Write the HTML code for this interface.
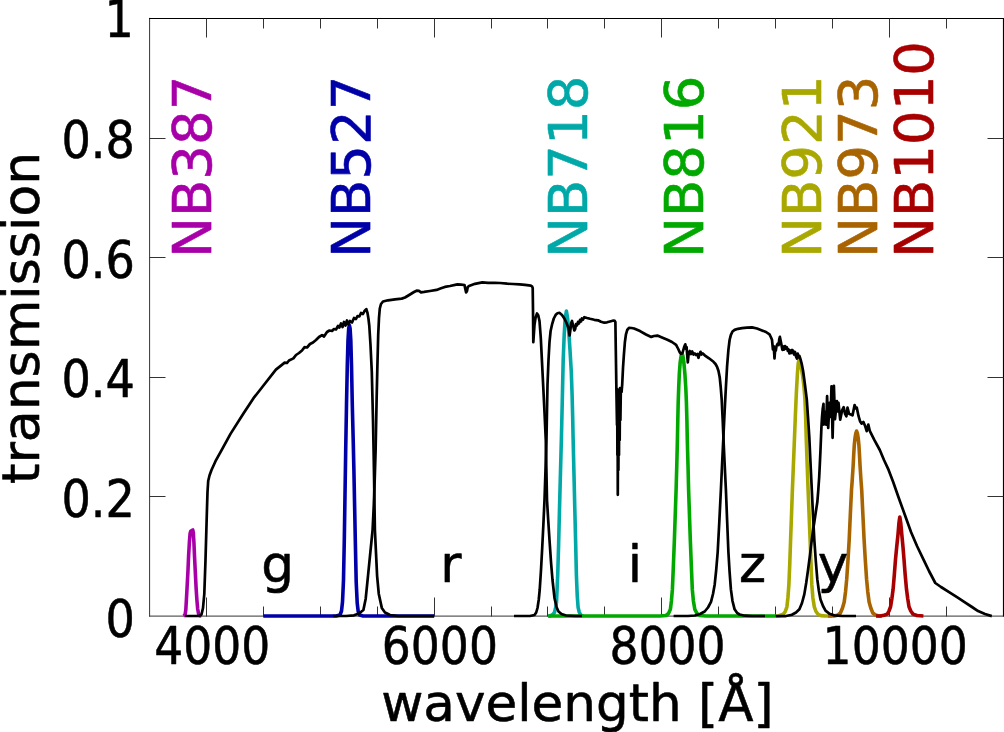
<!DOCTYPE html>
<html lang="en"><head><meta charset="utf-8"><title>Filter transmission curves</title>
<style>html,body{margin:0;padding:0;background:#fff;overflow:hidden}svg{display:block}</style></head>
<body>
<svg width="1004" height="732" viewBox="0 0 1004 732" font-family="'DejaVu Sans','Liberation Sans',sans-serif">
<rect width="1004" height="732" fill="#fff"/>
<path d="M149.6 17.9V616.6M149.1 616.1H1004" fill="none" stroke="#333" stroke-width="1"/>
<path d="M149.1 18.5H1004M1003.5 17.9V616.6" fill="none" stroke="#000" stroke-width="1.15"/>
<path d="M206.5 616.5v-19M206.5 18.5v19M263.5 616.5v-10M263.5 18.5v10M320.5 616.5v-10M320.5 18.5v10M377.5 616.5v-10M377.5 18.5v10M434.5 616.5v-19M434.5 18.5v19M491.5 616.5v-10M491.5 18.5v10M547.5 616.5v-10M547.5 18.5v10M604.5 616.5v-10M604.5 18.5v10M661.5 616.5v-19M661.5 18.5v19M718.5 616.5v-10M718.5 18.5v10M775.5 616.5v-10M775.5 18.5v10M832.5 616.5v-10M832.5 18.5v10M889.5 616.5v-19M889.5 18.5v19M946.5 616.5v-10M946.5 18.5v10M149.5 496.5h16M1003.5 496.5h-16M149.5 377.5h16M1003.5 377.5h-16M149.5 257.5h16M1003.5 257.5h-16M149.5 138.5h16M1003.5 138.5h-16" stroke="#333" stroke-width="1" fill="none"/>
<g id="nb">
<polyline points="183.5,616.0 185.0,615.0 185.8,610.0 186.5,598.0 187.2,585.0 187.9,572.0 188.6,556.0 189.4,542.0 190.1,533.5 190.7,531.3 192.0,530.4 192.8,530.0 193.3,532.5 193.9,542.0 194.5,556.0 195.3,572.0 196.1,588.0 196.9,600.0 197.7,609.0 198.6,614.0 200.0,615.7 201.5,616.0" fill="none" stroke="#a800a8" stroke-width="3.6" stroke-linejoin="round" stroke-linecap="butt" />
<polyline points="263.3,616.0 336.0,616.0 340.0,615.0 341.5,611.0 342.5,602.0 343.5,580.0 344.3,540.0 345.0,495.0 345.7,450.5 346.5,405.0 347.3,365.0 348.0,340.0 348.7,328.5 349.4,325.3 350.1,328.5 350.8,340.0 351.5,365.0 352.3,405.0 353.2,440.0 353.9,470.0 354.6,505.0 355.4,545.0 356.2,582.0 357.2,603.0 358.2,611.5 359.7,615.0 363.0,616.0 434.2,616.0" fill="none" stroke="#0000a8" stroke-width="3.6" stroke-linejoin="round" stroke-linecap="butt" />
<polyline points="548.2,616.0 550.0,616.0 553.0,614.3 554.5,612.3 555.5,608.5 556.5,602.3 557.7,575.0 558.6,545.0 559.4,512.7 560.4,475.0 561.4,438.0 562.3,400.0 563.2,359.6 564.2,335.0 565.2,318.0 566.4,311.0 567.6,318.0 568.8,332.0 570.0,350.0 571.3,372.0 572.1,395.0 572.7,418.0 573.1,438.0 574.0,475.0 574.9,512.7 575.7,545.0 576.4,575.0 577.2,595.0 578.1,607.3 579.2,612.0 580.6,614.8 583.1,616.0" fill="none" stroke="#00a8a8" stroke-width="3.6" stroke-linejoin="round" stroke-linecap="butt" />
<polyline points="548.2,616.0 660.0,616.0 666.1,615.5 668.5,613.5 670.4,609.3 671.4,601.0 672.4,589.4 673.4,565.0 674.4,539.6 675.3,513.0 676.1,489.8 676.8,465.0 677.4,440.0 677.8,420.0 678.2,402.0 678.7,388.0 679.3,374.0 680.2,362.0 681.2,355.5 682.0,353.8 682.8,355.5 683.8,362.0 684.9,374.0 685.8,388.0 686.4,402.0 686.9,420.0 687.3,440.0 688.0,465.0 688.6,489.8 689.4,513.0 690.3,539.6 691.3,565.0 692.3,589.4 693.4,601.0 694.8,609.3 697.0,613.5 699.8,615.5 706.0,616.0 775.7,616.0" fill="none" stroke="#00a800" stroke-width="3.6" stroke-linejoin="round" stroke-linecap="butt" />
<polyline points="775.7,616.0 779.0,615.8 783.2,614.3 785.3,611.5 786.9,606.8 787.9,598.0 788.9,584.4 789.8,563.0 790.6,539.6 791.5,515.0 792.4,489.8 793.4,465.0 794.4,440.0 795.4,415.0 796.4,392.0 797.4,374.0 798.2,363.5 798.9,359.8 799.9,362.0 801.2,367.5 802.6,375.5 803.8,385.0 804.8,397.0 805.6,415.0 806.3,440.0 807.2,465.0 808.1,489.8 809.1,515.0 810.1,539.6 811.0,563.0 811.8,584.4 812.9,598.0 814.3,606.8 816.0,611.5 818.0,614.3 821.0,615.6 825.5,616.0 832.0,616.0" fill="none" stroke="#a8a800" stroke-width="3.6" stroke-linejoin="round" stroke-linecap="butt" />
<polyline points="828.0,616.0 834.2,616.0 838.0,615.0 840.4,613.0 842.5,608.0 844.2,601.9 845.5,592.0 846.7,579.4 848.0,560.0 849.2,539.6 850.3,515.0 851.5,489.8 852.2,480.5 853.2,465.0 853.7,455.0 854.3,445.0 855.0,438.0 855.8,433.3 856.6,431.0 857.4,433.3 858.2,438.0 858.9,445.0 859.5,455.0 860.0,465.0 861.0,480.5 861.7,489.8 862.9,515.0 864.1,539.6 865.3,560.0 866.6,579.4 867.8,592.0 869.1,601.9 870.8,608.0 872.8,613.0 875.5,615.0 879.0,616.0 882.0,616.0" fill="none" stroke="#a86400" stroke-width="3.6" stroke-linejoin="round" stroke-linecap="butt" />
<polyline points="876.0,616.0 880.0,616.0 884.0,615.3 887.3,614.1 889.0,611.0 890.6,606.7 891.9,598.5 893.1,589.3 894.3,575.0 895.5,559.4 896.8,546.0 898.0,534.5 899.0,522.5 899.8,517.1 900.7,522.5 901.8,534.5 902.9,546.0 904.0,559.4 905.2,575.0 906.5,589.3 907.7,598.5 909.0,606.7 910.8,611.0 913.0,614.1 917.0,615.5 923.4,616.0" fill="none" stroke="#a80000" stroke-width="3.6" stroke-linejoin="round" stroke-linecap="butt" />
</g>
<g id="bb">
<polyline points="185.0,616.0 199.0,616.0 201.5,614.5 203.0,608.0 204.3,594.0 205.5,560.0 206.8,514.7 207.5,492.0 208.2,481.0 209.5,475.5 211.5,470.0 215.5,461.2 222.3,448.9 230.5,433.9 243.6,413.2 253.5,398.2 262.3,387.0 275.9,369.6 284.7,362.6 287.0,363.0 289.0,360.5 293.4,358.4 296.0,355.0 299.0,353.0 302.0,350.5 304.6,347.2 307.0,347.5 310.0,344.0 313.0,342.5 316.0,340.0 319.0,337.0 322.0,335.2 324.0,336.5 327.0,332.0 329.5,330.5 332.0,331.0 334.0,329.0 336.0,329.5 338.0,326.0 339.4,327.5 341.0,323.5 342.5,327.0 344.0,322.0 345.5,325.5 347.0,320.5 348.5,324.5 350.0,321.0 352.0,322.5 354.0,318.0 356.0,319.0 357.5,316.0 359.4,316.5 361.0,313.0 363.0,314.0 364.5,311.0 366.3,309.1 367.5,313.0 368.5,319.0 369.3,326.0 370.5,345.0 371.8,372.0 373.0,420.0 373.6,450.5 374.1,480.0 374.9,530.0 376.0,552.9 377.1,575.8 378.8,594.0 381.8,607.9 385.0,612.5 390.0,615.0 398.0,616.0 434.0,616.0" fill="none" stroke="#000" stroke-width="2.7" stroke-linejoin="round" stroke-linecap="butt" />
<polyline points="333.0,616.0 346.0,616.0 354.0,615.3 359.0,613.5 363.4,610.0 365.7,598.7 368.0,575.8 370.3,552.9 372.6,530.0 373.8,505.0 374.7,480.0 375.6,450.5 376.6,400.0 377.3,369.6 378.2,335.0 379.0,318.0 379.8,308.5 381.0,304.0 383.0,301.5 388.0,300.3 395.0,299.3 401.7,298.6 405.0,297.5 410.0,294.5 414.0,292.0 416.6,290.7 419.0,290.9 421.0,292.3 424.1,291.9 430.0,291.0 436.6,289.9 441.0,288.3 444.9,286.9 450.0,286.0 457.4,284.4 461.0,284.6 464.5,285.0 465.3,289.0 466.1,292.4 467.0,291.0 467.8,287.0 469.0,286.0 475.0,283.8 482.3,282.4 488.0,282.8 494.7,282.9 500.0,283.0 507.2,283.7 513.0,284.0 519.6,284.4 525.0,284.9 530.8,285.6 532.0,286.3 532.7,288.0 533.0,310.0 533.3,342.2 533.8,335.0 534.5,324.7 535.5,318.0 537.0,313.5 538.3,315.5 539.5,321.0 540.8,338.0 542.0,362.0 543.3,388.0 544.5,412.0 545.8,440.5 546.4,470.0 547.0,500.0 548.2,520.0 549.5,540.0 551.0,562.0 552.5,580.0 554.5,598.0 556.5,607.0 558.5,611.5 561.5,614.0 566.0,615.5 575.0,616.0 582.0,616.0" fill="none" stroke="#000" stroke-width="2.7" stroke-linejoin="round" stroke-linecap="butt" />
<polyline points="514.0,616.0 530.0,616.0 534.5,615.0 536.2,612.5 537.5,608.0 538.7,600.0 539.7,590.0 541.0,570.0 542.2,548.0 543.4,524.0 544.5,500.3 545.5,470.0 546.5,438.0 547.0,410.0 547.5,384.5 548.5,360.0 549.5,342.2 550.6,331.0 552.0,324.7 553.8,318.5 555.7,314.8 557.5,313.2 559.4,312.8 562.0,315.0 564.4,318.5 566.5,323.0 568.2,327.2 569.0,331.0 569.6,335.5 570.5,329.0 571.2,323.0 572.0,321.0 573.0,325.0 574.3,330.5 575.2,329.0 576.0,324.0 577.0,325.5 578.0,322.0 579.0,323.5 580.0,320.0 581.0,321.5 581.9,318.5 583.0,319.5 584.3,317.2 587.0,318.0 590.0,318.8 594.3,319.8 598.0,320.3 601.0,321.8 604.3,322.7 607.0,322.3 610.0,321.5 613.5,320.5 614.7,320.8 615.4,322.2 615.8,350.0 616.4,389.5 617.0,425.0 617.2,389.0 617.4,455.0 617.6,392.0 617.8,494.8 618.1,395.0 618.4,470.0 618.7,392.0 619.0,455.0 619.3,390.0 619.7,440.0 620.0,388.0 620.4,420.0 620.8,392.0 621.6,392.0 622.2,384.5 623.0,368.0 623.9,354.6 624.9,342.0 625.9,334.7 627.2,330.0 629.0,327.9 631.5,328.0 634.1,328.5 640.0,331.1 646.0,334.5 651.2,336.9 654.0,336.0 657.4,335.6 662.0,337.5 667.4,339.8 672.0,342.0 676.1,344.8 678.0,348.5 679.8,352.3 681.0,353.8 682.3,353.5 683.3,350.0 684.3,346.5 685.3,344.3 686.0,349.0 686.6,347.0 687.2,355.0 687.8,362.3 688.4,356.0 689.0,352.0 689.8,351.0 691.0,354.0 692.2,351.5 693.5,354.5 694.8,353.5 696.0,355.0 697.3,354.0 698.5,357.8 699.5,354.0 700.5,351.8 701.5,354.5 702.8,353.5 704.7,355.3 709.0,358.3 713.5,361.8 715.5,364.0 717.2,367.2 718.5,371.0 719.7,377.2 720.7,387.0 721.7,399.6 722.6,418.0 723.4,437.0 724.6,463.0 725.9,489.8 727.1,520.0 728.4,552.0 729.6,572.0 730.9,589.4 732.5,601.0 734.6,609.3 737.0,612.8 739.6,614.5 745.0,615.7 752.0,616.0 765.0,616.0" fill="none" stroke="#000" stroke-width="2.7" stroke-linejoin="round" stroke-linecap="butt" />
<polyline points="673.6,616.0 688.0,616.0 694.8,615.5 700.0,614.0 704.7,611.5 708.0,607.5 711.0,601.9 713.0,594.0 714.7,584.4 716.2,570.0 717.7,552.0 719.3,522.0 720.9,489.8 722.2,462.0 723.4,437.0 724.6,412.0 725.9,387.2 727.1,366.0 728.4,349.8 729.6,340.0 730.9,334.9 732.5,331.5 734.6,329.9 738.0,328.8 742.1,328.1 747.0,327.6 752.0,327.4 757.0,328.5 762.0,330.4 766.0,332.0 769.5,334.4 770.8,337.0 772.0,339.8 772.5,345.0 772.9,349.5 773.6,346.0 774.1,352.0 774.5,358.5 775.2,349.0 775.8,350.5 776.5,346.1 777.5,344.0 778.6,345.0 779.3,339.0 779.9,336.9 780.7,341.0 781.5,345.0 782.4,349.8 783.3,346.5 784.2,349.5 785.0,346.0 786.0,348.5 786.9,347.3 787.8,351.0 788.6,349.5 789.4,353.5 790.3,350.5 791.2,353.0 792.2,350.0 793.1,351.0 794.0,354.5 795.0,352.0 796.0,356.5 796.9,358.5 797.7,353.5 798.5,357.5 799.4,356.0 800.6,359.5 801.9,364.7 803.1,371.0 804.3,379.7 805.5,389.0 806.8,399.6 808.0,417.0 809.3,437.0 810.5,463.0 811.8,489.8 813.0,515.0 814.3,539.6 815.8,561.0 817.3,579.4 818.9,591.0 820.5,599.4 823.0,606.0 825.5,610.6 829.5,613.8 834.2,615.4 842.0,616.0 856.0,616.0" fill="none" stroke="#000" stroke-width="2.7" stroke-linejoin="round" stroke-linecap="butt" />
<polyline points="775.7,616.2 785.0,616.2 791.9,614.8 796.0,612.5 799.4,609.3 802.0,603.0 804.3,594.4 806.2,583.0 808.1,569.5 810.0,555.0 811.8,539.6 813.2,529.0 814.3,522.2 815.8,512.0 817.3,502.3 818.3,490.0 819.2,477.0 819.8,464.9 820.4,452.0 820.9,440.0 821.4,428.0 822.0,417.0 822.7,409.0 823.5,403.9 823.8,424.6 825.7,411.5 826.2,424.6 827.1,396.2 828.2,427.9 829.5,402.8 830.6,417.0 831.5,386.4 832.6,437.8 833.9,385.8 835.0,419.2 836.9,401.1 837.7,411.5 838.5,402.8 840.2,419.7 842.1,410.4 843.7,407.2 845.0,413.7 846.4,416.4 847.5,407.7 849.0,413.7 851.4,414.8 852.5,415.4 854.6,405.0 855.7,408.3 856.8,407.7 858.5,415.9 860.1,421.4 861.7,423.6 863.4,421.9 865.0,425.7 866.7,431.2 868.3,424.6 869.9,431.2 874.3,439.9 879.8,450.0 884.0,460.0 888.6,469.9 893.0,481.5 898.5,497.2 904.0,512.5 911.0,532.0 917.0,546.0 923.4,559.4 929.0,571.0 935.3,583.0 941.0,587.0 948.3,591.7 957.0,597.2 965.7,602.9 972.0,607.0 978.1,611.1 985.0,614.0 991.8,616.1" fill="none" stroke="#000" stroke-width="2.7" stroke-linejoin="round" stroke-linecap="butt" />
</g>
<g id="labels" stroke-width="0.55" stroke-linejoin="round">
<text transform="translate(134.90 636.50) scale(0.9240 1.0340)" font-size="50" text-anchor="end" fill="#000" stroke="#000">0</text>
<text transform="translate(134.90 516.90) scale(0.9240 1.0340)" font-size="50" text-anchor="end" fill="#000" stroke="#000">0.2</text>
<text transform="translate(134.90 397.30) scale(0.9240 1.0340)" font-size="50" text-anchor="end" fill="#000" stroke="#000">0.4</text>
<text transform="translate(134.90 277.70) scale(0.9240 1.0340)" font-size="50" text-anchor="end" fill="#000" stroke="#000">0.6</text>
<text transform="translate(134.90 158.10) scale(0.9240 1.0340)" font-size="50" text-anchor="end" fill="#000" stroke="#000">0.8</text>
<text transform="translate(134.00 37.40) scale(0.9240 1.0340)" font-size="50" text-anchor="end" fill="#000" stroke="#000">1</text>
<text transform="translate(212.20 664.30) scale(0.9129 1.0340)" font-size="50" text-anchor="middle" fill="#000" stroke="#000">4000</text>
<text transform="translate(439.87 664.30) scale(0.9129 1.0340)" font-size="50" text-anchor="middle" fill="#000" stroke="#000">6000</text>
<text transform="translate(667.53 664.30) scale(0.9129 1.0340)" font-size="50" text-anchor="middle" fill="#000" stroke="#000">8000</text>
<text transform="translate(895.20 664.30) scale(0.9129 1.0340)" font-size="50" text-anchor="middle" fill="#000" stroke="#000">10000</text>
<text transform="translate(577.40 721.00) scale(1.0320 1.0360)" font-size="50" text-anchor="middle" fill="#000" stroke="#000">wavelength [Å]</text>
<text transform="translate(39.10 317.90) rotate(-90) scale(1.0400 1.0480)" font-size="50" text-anchor="middle" fill="#000" stroke="#000">transmission</text>
<text transform="translate(277.70 582.00) scale(1.0320 1.0360)" font-size="50" text-anchor="middle" fill="#000" stroke="#000">g</text>
<text transform="translate(450.80 582.00) scale(1.0320 1.0360)" font-size="50" text-anchor="middle" fill="#000" stroke="#000">r</text>
<text transform="translate(635.00 582.00) scale(1.0320 1.0360)" font-size="50" text-anchor="middle" fill="#000" stroke="#000">i</text>
<text transform="translate(752.50 582.00) scale(1.0320 1.0360)" font-size="50" text-anchor="middle" fill="#000" stroke="#000">z</text>
<text transform="translate(833.00 582.00) scale(1.0320 1.0360)" font-size="50" text-anchor="middle" fill="#000" stroke="#000">y</text>
<text transform="translate(210.80 257.80) rotate(-90) scale(1.0900 1.0780)" font-size="50" text-anchor="start" fill="#a800a8" stroke="#a800a8">NB387</text>
<text transform="translate(370.10 257.80) rotate(-90) scale(1.0900 1.0780)" font-size="50" text-anchor="start" fill="#0000a8" stroke="#0000a8">NB527</text>
<text transform="translate(587.40 257.80) rotate(-90) scale(1.0900 1.0780)" font-size="50" text-anchor="start" fill="#00a8a8" stroke="#00a8a8">NB718</text>
<text transform="translate(702.50 257.80) rotate(-90) scale(1.0900 1.0780)" font-size="50" text-anchor="start" fill="#00a800" stroke="#00a800">NB816</text>
<text transform="translate(820.80 257.80) rotate(-90) scale(1.0900 1.0780)" font-size="50" text-anchor="start" fill="#a8a800" stroke="#a8a800">NB921</text>
<text transform="translate(877.40 257.80) rotate(-90) scale(1.0900 1.0780)" font-size="50" text-anchor="start" fill="#a86400" stroke="#a86400">NB973</text>
<text transform="translate(932.50 257.80) rotate(-90) scale(1.0900 1.0780)" font-size="50" text-anchor="start" fill="#a80000" stroke="#a80000">NB1010</text>
</g>
</svg>
</body></html>
